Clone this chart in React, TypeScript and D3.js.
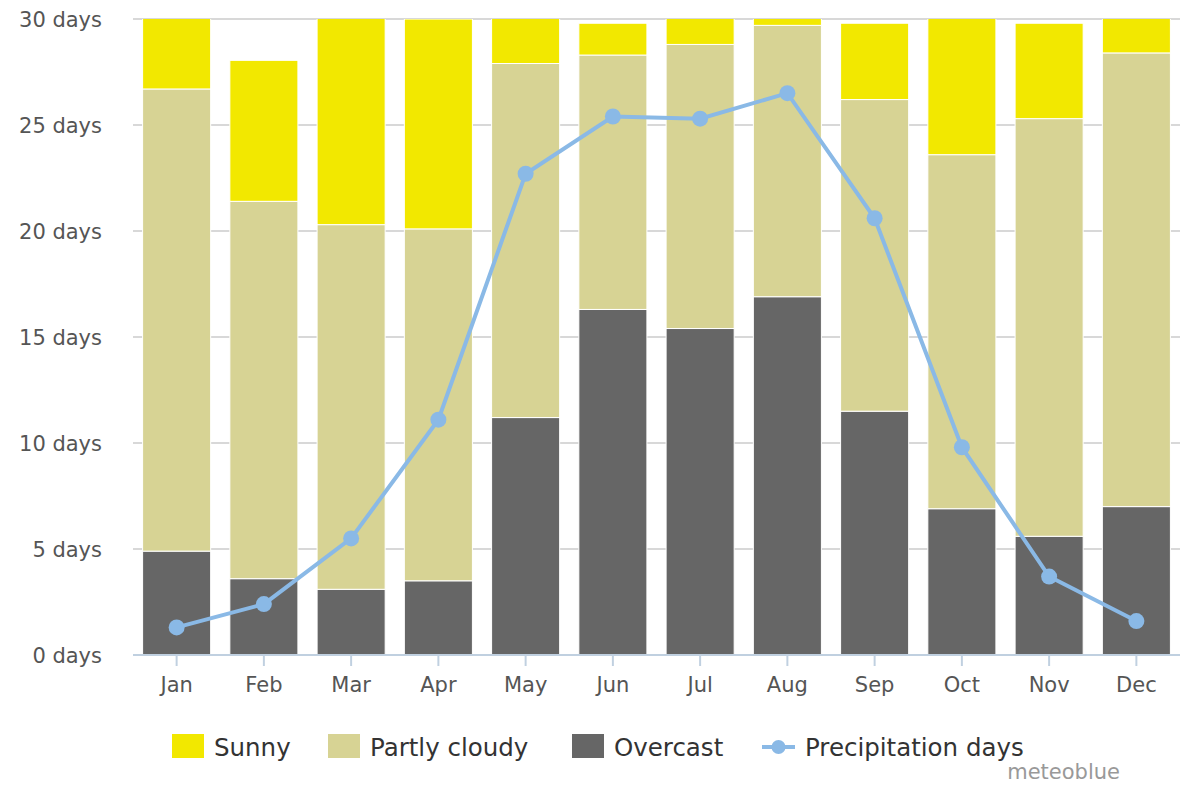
import React from "react";
import * as d3 from "d3";

const months = ["Jan", "Feb", "Mar", "Apr", "May", "Jun", "Jul", "Aug", "Sep", "Oct", "Nov", "Dec"];
const overcast = [4.9, 3.6, 3.1, 3.5, 11.2, 16.3, 15.4, 16.9, 11.5, 6.9, 5.6, 7.0];
const partlyCloudy = [21.8, 17.8, 17.2, 16.6, 16.7, 12.0, 13.4, 12.8, 14.7, 16.7, 19.7, 21.4];
const sunny = [4.1, 6.65, 10.5, 9.9, 2.9, 1.5, 2.0, 1.1, 3.6, 7.2, 4.5, 2.4];
const precipitation = [1.3, 2.4, 5.5, 11.1, 22.7, 25.4, 25.3, 26.5, 20.6, 9.8, 3.7, 1.6];
const yTicks = [0, 5, 10, 15, 20, 25, 30];

const seriesKeys = ["overcast", "partly", "sunny"] as const;
const seriesColors: Record<string, string> = {
	overcast: "#666666",
	partly: "#d7d394",
	sunny: "#f2e800",
};
const lineColor = "#8ab9e6";
const font = "'DejaVu Sans', sans-serif";

const W = 1200;
const H = 800;
const left = 133;
const right = 1180;
const top = 19;
const bottom = 655;

export default function App() {
	const x = d3.scaleBand<string>().domain(months).range([left, right]).paddingInner(0.22).paddingOuter(0.11);
	const y = d3.scaleLinear().domain([0, 30]).range([bottom, top]);

	const rows = months.map((m, i) => ({
		month: m,
		overcast: overcast[i],
		partly: partlyCloudy[i],
		sunny: sunny[i],
	}));
	const stacked = d3.stack<any>().keys(seriesKeys as unknown as string[])(rows);

	const cx = (m: string) => (x(m) ?? 0) + x.bandwidth() / 2;
	const line = d3
		.line<number>()
		.x((_, i) => cx(months[i]))
		.y((d) => y(d));

	const legend = [
		{ label: "Sunny", color: seriesColors.sunny, x: 172, type: "box" },
		{ label: "Partly cloudy", color: seriesColors.partly, x: 328, type: "box" },
		{ label: "Overcast", color: seriesColors.overcast, x: 572, type: "box" },
		{ label: "Precipitation days", color: lineColor, x: 762, type: "line" },
	];

	return (
		<svg
			width={W}
			height={H}
			style={{ position: "absolute", left: 0, top: 0, background: "#fff" }}
			fontFamily={font}
		>
			<defs>
				<clipPath id="plot">
					<rect x={left} y={top} width={right - left} height={bottom - top} />
				</clipPath>
			</defs>

			{/* grid */}
			{yTicks
				.filter((t) => t > 0)
				.map((t) => (
					<line key={t} x1={left} x2={right} y1={y(t)} y2={y(t)} stroke="#d8d8d8" strokeWidth={2} />
				))}

			{/* y labels */}
			{yTicks.map((t) => (
				<text key={t} x={102} y={y(t) + 8} textAnchor="end" fontSize={21} fill="#555">
					{t} days
				</text>
			))}

			{/* bars */}
			<g clipPath="url(#plot)">
				{stacked.map((layer) => (
					<g key={layer.key} fill={seriesColors[layer.key]}>
						{layer.map((d, i) => (
							<rect
								key={i}
								x={x(months[i])}
								y={y(d[1])}
								width={x.bandwidth()}
								height={y(d[0]) - y(d[1])}
								stroke="#fff"
								strokeWidth={1}
							/>
						))}
					</g>
				))}
			</g>

			{/* x axis */}
			<line x1={left} x2={right} y1={bottom} y2={bottom} stroke="#c0d0e0" strokeWidth={2} />
			{months.map((m) => (
				<g key={m}>
					<line x1={cx(m)} x2={cx(m)} y1={bottom} y2={bottom + 11} stroke="#c0d0e0" strokeWidth={2} />
					<text x={cx(m)} y={692} textAnchor="middle" fontSize={21} fill="#555">
						{m}
					</text>
				</g>
			))}

			{/* precipitation line */}
			<path d={line(precipitation) ?? ""} fill="none" stroke={lineColor} strokeWidth={4} />
			{precipitation.map((v, i) => (
				<circle key={i} cx={cx(months[i])} cy={y(v)} r={8} fill={lineColor} />
			))}

			{/* legend */}
			{legend.map((l) =>
				l.type === "box" ? (
					<g key={l.label}>
						<rect x={l.x} y={734} width={32} height={24} fill={l.color} />
						<text x={l.x + 42} y={756} fontSize={24.5} fill="#333">
							{l.label}
						</text>
					</g>
				) : (
					<g key={l.label}>
						<line x1={l.x} x2={l.x + 33} y1={747} y2={747} stroke={l.color} strokeWidth={4} />
						<circle cx={l.x + 16.5} cy={747} r={7} fill={l.color} />
						<text x={l.x + 43} y={756} fontSize={24.5} fill="#333">
							{l.label}
						</text>
					</g>
				)
			)}

			<text x={1120} y={779} textAnchor="end" fontSize={21} fill="#999">
				meteoblue
			</text>
		</svg>
	);
}
